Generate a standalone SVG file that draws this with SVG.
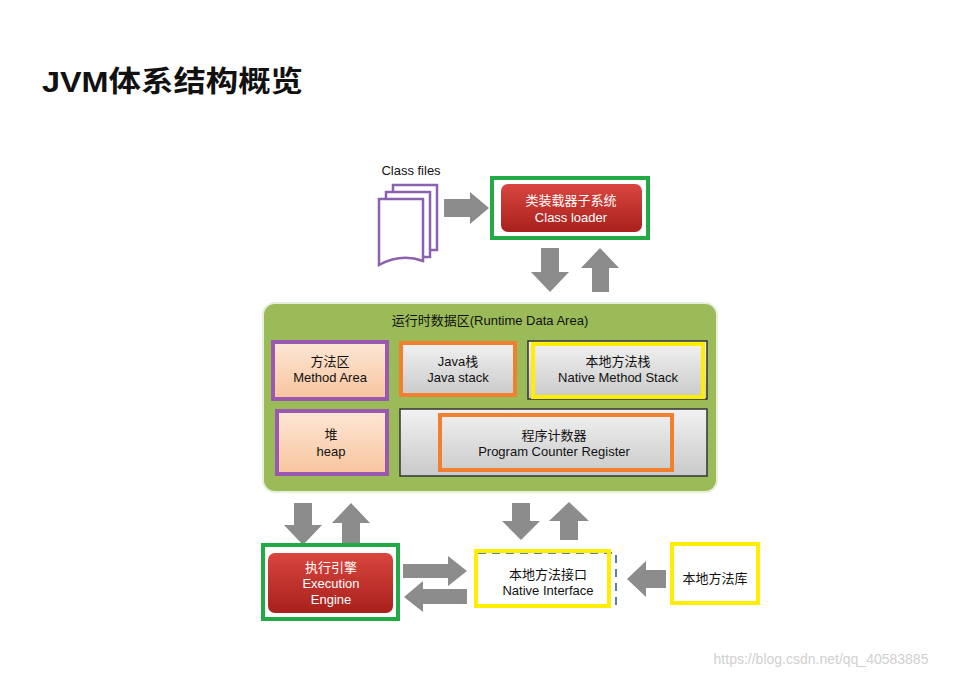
<svg xmlns="http://www.w3.org/2000/svg" width="953" height="678" viewBox="0 0 953 678">
<defs>
<linearGradient id="red" x1="0" y1="0" x2="0" y2="1"><stop offset="0" stop-color="#d9463f"/><stop offset="1" stop-color="#a8201c"/></linearGradient>
<linearGradient id="peach" x1="0" y1="0" x2="0" y2="1"><stop offset="0" stop-color="#fde7d6"/><stop offset="1" stop-color="#f8c49d"/></linearGradient>
<linearGradient id="gray" x1="0" y1="0" x2="0" y2="1"><stop offset="0" stop-color="#f2f2f2"/><stop offset="1" stop-color="#c9c9c9"/></linearGradient>
</defs>
<style>
text{font-family:"Liberation Sans","Noto Sans CJK SC",sans-serif;text-anchor:middle}
.t{font-size:13px;fill:#111}
.w{font-size:13px;fill:#fff}
.arr{fill:#8c8c8c}
.grn{fill:none;stroke:#22aa44;stroke-width:4}
.yel{fill:none;stroke:#ffee00;stroke-width:4}
.org{fill:none;stroke:#f08030;stroke-width:4}
.pur{fill:none;stroke:#9a58b0;stroke-width:4}
</style>
<rect width="953" height="678" fill="#fff"/>
<text x="42" y="92" style="font-size:29px;font-weight:bold;text-anchor:start;fill:#111" textLength="261" lengthAdjust="spacingAndGlyphs">JVM体系结构概览</text>
<g id="connectors">
<polygon class="arr" points="444,199 470,199 470,192 489,208 470,224 470,217 444,217"/>
<polygon class="arr" points="541,248 559,248 559,272 569,272 550,292 531,272 541,272"/>
<polygon class="arr" points="592,292 609,292 609,268 619,268 600,248 581,268 592,268"/>
<polygon class="arr" points="294,503 312,503 312,525 322,525 303,545 284,525 294,525"/>
<polygon class="arr" points="342,545 360,545 360,523 370,523 351,503 332,523 342,523"/>
<polygon class="arr" points="512,503 530,503 530,521 540,521 521,540 502,521 512,521"/>
<polygon class="arr" points="560,540 578,540 578,521 589,521 569,502 549,521 560,521"/>
<polygon class="arr" points="403,564 448,564 448,556 467,571 448,586 448,578 403,578"/>
<polygon class="arr" points="467,589 423,589 423,581 404,597 423,612 423,604 467,604"/>
<polygon class="arr" points="666,570 646,570 646,561 627,579 646,597 646,588 666,588"/>
</g>
<g id="classfiles">
<text x="411" y="175" class="t">Class files</text>
<path d="M393,185 h44 v65 h-44 z" fill="#fff" stroke="#8a62b0" stroke-width="2.5"/>
<path d="M386,192 h44 v65 h-44 z" fill="#fff" stroke="#8a62b0" stroke-width="2.5"/>
<path d="M379,199 h44 v62 q-22,-8 -44,4 z" fill="#fff" stroke="#8a62b0" stroke-width="2.5"/>
</g>
<g id="classloader">
<rect x="501" y="184" width="141" height="48" rx="7" fill="url(#red)"/>
<rect x="492" y="178" width="156" height="60" class="grn"/>
<text x="571" y="205" class="w">类装载器子系统</text>
<text x="571" y="222" class="w">Class loader</text>
</g>
<g id="runtime">
<rect x="263" y="303" width="454" height="189" rx="12" fill="#9bbb59" stroke="#e6eedc" stroke-width="2"/>
<text x="490" y="325" class="t">运行时数据区(Runtime Data Area)</text>
</g>
<g id="methodarea">
<rect x="272" y="341" width="116" height="59" fill="url(#peach)"/>
<rect x="273" y="342" width="114" height="57" class="pur"/>
<text x="330" y="366" class="t">方法区</text>
<text x="330" y="382" class="t">Method Area</text>
</g>
<g id="javastack">
<rect x="400" y="342" width="116" height="54" fill="url(#gray)"/>
<rect x="401" y="343" width="114" height="52" class="org"/>
<text x="458" y="366" class="t">Java栈</text>
<text x="458" y="382" class="t">Java stack</text>
</g>
<g id="nativestack">
<rect x="528" y="341" width="179" height="58" fill="url(#gray)" stroke="#333" stroke-width="1.5"/>
<rect x="533" y="344" width="170" height="53" class="yel"/>
<text x="618" y="366" class="t">本地方法栈</text>
<text x="618" y="382" class="t">Native Method Stack</text>
</g>
<g id="heap">
<rect x="276" y="410" width="112" height="65" fill="url(#peach)"/>
<rect x="277" y="411" width="110" height="63" class="pur"/>
<text x="331" y="439" class="t">堆</text>
<text x="331" y="456" class="t">heap</text>
</g>
<g id="pcregister">
<rect x="400" y="409" width="307" height="67" fill="url(#gray)" stroke="#333" stroke-width="1.5"/>
<rect x="440" y="415" width="232" height="55" class="org"/>
<text x="554" y="440" class="t">程序计数器</text>
<text x="554" y="456" class="t">Program Counter Register</text>
</g>
<g id="engine">
<rect x="268" y="553" width="125" height="60" rx="7" fill="url(#red)"/>
<rect x="263" y="545" width="135" height="74" class="grn"/>
<text x="331" y="572" class="w">执行引擎</text>
<text x="331" y="588" class="w">Execution</text>
<text x="331" y="604" class="w">Engine</text>
</g>
<g id="nativeinterface">
<path d="M478,553 h138 v53 h-138" fill="none" stroke="#5a7fa8" stroke-width="2" stroke-dasharray="8,6"/>
<rect x="476" y="551" width="133" height="55" class="yel"/>
<text x="548" y="579" class="t">本地方法接口</text>
<text x="548" y="595" class="t">Native Interface</text>
</g>
<g id="nativelib">
<rect x="672" y="544" width="86" height="59" class="yel"/>
<text x="715" y="583" class="t">本地方法库</text>
</g>
<text x="821" y="664" style="font-size:14px;fill:#d0d0d0">https://blog.csdn.net/qq_40583885</text>
</svg>
